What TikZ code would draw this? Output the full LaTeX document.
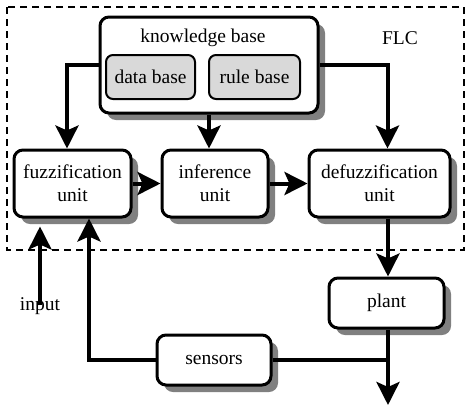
\documentclass[tikz,border=0pt]{standalone}
\usepackage{fontspec}
\setmainfont{Liberation Serif}
\usetikzlibrary{arrows.meta,shadows,calc}
\begin{document}
\begin{tikzpicture}[x=1pt,y=-1pt,
  every node/.style={font=\fontsize{19.5}{23.4}\selectfont, inner sep=0pt},
  shad/.style={drop shadow={shadow xshift=7pt,shadow yshift=-7pt,fill=black!50,opacity=1}},
  unitbox/.style={draw=black, line width=3pt, rounded corners=9pt, fill=white, shad, align=center},
  innerbox/.style={draw=black, line width=2pt, rounded corners=7pt, fill=black!15, align=center},
  arr/.style={line width=4pt, -{Stealth[length=23pt,width=23pt,inset=5pt]}},
  ln/.style={line width=4pt},
  flc/.style={draw=black, line width=2pt, dash pattern=on 7pt off 5pt}]
\useasboundingbox (0,0) rectangle (474,405);
\draw[flc] (7,7) rectangle (464,250);
\node (flclabel) at (400,38) {FLC};
\node[unitbox, minimum width=218pt, minimum height=96pt] (kb) at (209,65) {};
\node (kblabel) at (203,38) {knowledge base};
\node[innerbox, minimum width=89pt, minimum height=44pt] (db) at (150.5,77) {data base};
\node[innerbox, minimum width=91pt, minimum height=44pt] (rb) at (254.5,77) {rule base};
\node[unitbox, minimum width=117pt, minimum height=67pt] (fuzz) at (72.5,183.5) {fuzzification\\unit};
\node[unitbox, minimum width=106pt, minimum height=67pt] (inf) at (215,183.5) {inference\\unit};
\node[unitbox, minimum width=141pt, minimum height=67pt] (dfz) at (379.5,183.5) {defuzzification\\unit};
\node[unitbox, minimum width=115pt, minimum height=50pt] (plant) at (386.5,303) {plant};
\node[unitbox, minimum width=114pt, minimum height=50pt] (sens) at (214,360) {sensors};
\node (inp) at (40,306) {input};
\coordinate (bottom) at (388,405);
% connectors
\draw[arr] (kb.west) -| ([xshift=-5.5pt]fuzz.north);
\draw[arr] (kb.south) -- (kb.south |- inf.north);
\draw[arr] (kb.east) -| ([xshift=8pt]dfz.north);
\draw[arr] (fuzz.east) -- (inf.west);
\draw[arr] (inf.east) -- (dfz.west);
\draw[arr] ([xshift=1.5pt]plant.north |- dfz.south) -- ([xshift=1.5pt]plant.north);
\draw[arr] ([xshift=1.5pt]plant.south) -- ([xshift=1.5pt]plant.south |- bottom);
\draw[ln] (sens.east) -- ([xshift=1.5pt]sens.east -| plant.south);
\draw[arr] (sens.west) -| ([xshift=16.5pt]fuzz.south);
\draw[arr] ([yshift=-8pt]inp.north) -- ([yshift=-8pt]inp.north |- fuzz.south);
\end{tikzpicture}
\end{document}
